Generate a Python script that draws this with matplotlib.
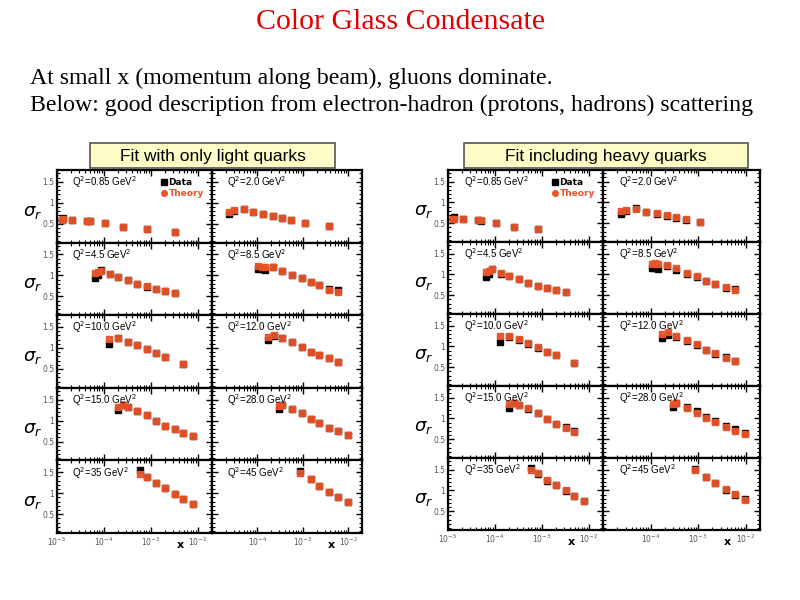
import numpy as np
import matplotlib.pyplot as plt
from matplotlib.patches import Rectangle
from matplotlib.lines import Line2D
from matplotlib.ticker import LogLocator, MultipleLocator, NullFormatter

nan = np.nan

q2_labels = ["0.85", "2.0", "4.5", "8.5", "10.0", "12.0", "15.0", "28.0", "35", "45"]

# x values, data (black) and theory (light-quark fit / heavy-quark fit) per Q2 bin
x_085 = [1.26e-5, 1.35e-5, 2.1e-5, 4.3e-5, 5.0e-5, 1.05e-4, 2.6e-4, 8.1e-4, 3.2e-3]
d_085 = [0.60, 0.64, 0.60, 0.57, 0.56, 0.51, 0.41, 0.37, 0.31]
l_085 = [0.59, 0.61, 0.60, 0.57, 0.56, 0.52, 0.42, 0.37, 0.31]
h_085 = [0.60, 0.61, 0.61, 0.58, 0.57, 0.50, 0.42, 0.37, nan]

x_2 = [2.4e-5, 3.1e-5, 5.0e-5, 8.1e-5, 1.35e-4, 2.2e-4, 3.5e-4, 5.5e-4, 1.1e-3, 3.8e-3]
d_2 = [0.73, 0.80, 0.86, 0.77, 0.73, 0.68, 0.63, 0.58, 0.52, 0.44]
l_2 = [0.77, 0.82, 0.85, 0.77, 0.73, 0.68, 0.63, 0.58, 0.52, 0.44]
h_2 = [0.80, 0.83, 0.84, 0.77, 0.74, 0.69, 0.64, 0.60, 0.53, nan]

x_45 = [6.5e-5, 7.6e-5, 8.5e-5, 1.35e-4, 2.0e-4, 3.2e-4, 5.1e-4, 8.1e-4, 1.3e-3, 2.0e-3, 3.2e-3]
d_45 = [0.93, 1.00, 1.13, 1.02, 0.96, 0.90, 0.79, 0.72, 0.67, 0.62, 0.57]
l_45 = [1.05, 1.07, 1.10, 1.02, 0.97, 0.90, 0.80, 0.74, 0.68, 0.63, 0.58]
h_45 = [1.07, 1.09, 1.12, 1.04, 0.97, 0.90, 0.80, 0.73, 0.68, 0.63, 0.58]

x_85 = [1.05e-4, 1.23e-4, 1.45e-4, 2.2e-4, 3.5e-4, 5.9e-4, 9.5e-4, 1.5e-3, 2.3e-3, 3.8e-3, 6.0e-3]
d_85 = [1.15, 1.16, 1.13, 1.20, 1.11, 1.01, 0.94, 0.84, 0.77, 0.67, 0.64]
l_85 = [1.22, 1.21, 1.20, 1.20, 1.11, 1.01, 0.94, 0.84, 0.77, 0.66, 0.60]
h_85 = [1.26, 1.27, 1.26, 1.22, 1.15, 1.04, 0.96, 0.85, 0.77, 0.69, 0.63]

x_10 = [1.3e-4, 2.0e-4, 3.2e-4, 5.1e-4, 8.1e-4, 1.3e-3, 2.0e-3, 4.9e-3]
d_10 = [1.10, 1.23, 1.15, 1.07, 0.97, 0.87, 0.79, 0.61]
l_10 = [1.21, 1.23, 1.15, 1.07, 0.97, 0.87, 0.79, 0.61]
h_10 = [1.24, 1.26, 1.17, 1.08, 0.98, 0.87, 0.79, 0.60]

x_12 = [1.7e-4, 2.3e-4, 3.5e-4, 5.9e-4, 9.5e-4, 1.5e-3, 2.3e-3, 3.8e-3, 6.0e-3]
d_12 = [1.20, 1.28, 1.23, 1.13, 1.03, 0.91, 0.83, 0.75, 0.66]
l_12 = [1.25, 1.30, 1.23, 1.13, 1.03, 0.91, 0.83, 0.75, 0.66]
h_12 = [1.31, 1.34, 1.26, 1.15, 1.05, 0.92, 0.85, 0.73, 0.65]

x_15 = [2.0e-4, 2.5e-4, 3.2e-4, 5.1e-4, 8.1e-4, 1.3e-3, 2.0e-3, 3.2e-3, 4.9e-3, 7.9e-3]
d_15 = [1.25, 1.38, 1.32, 1.23, 1.13, 0.98, 0.87, 0.79, 0.71, 0.62]
l_15 = [1.32, 1.36, 1.32, 1.23, 1.13, 0.98, 0.875, 0.79, 0.71, 0.625]
h_15 = [1.35, 1.38, 1.33, 1.24, 1.14, 0.99, 0.86, 0.77, 0.68, nan]

x_28 = [3.0e-4, 3.5e-4, 5.9e-4, 9.5e-4, 1.5e-3, 2.3e-3, 3.8e-3, 6.0e-3, 9.8e-3]
d_28 = [1.28, 1.37, 1.27, 1.17, 1.04, 0.94, 0.83, 0.75, 0.65]
l_28 = [1.35, 1.375, 1.275, 1.17, 1.04, 0.94, 0.83, 0.75, 0.65]
h_28 = [1.35, 1.37, 1.26, 1.13, 1.02, 0.91, 0.80, 0.71, 0.63]

x_35 = [5.9e-4, 8.1e-4, 1.3e-3, 2.0e-3, 3.2e-3, 4.9e-3, 7.9e-3]
d_35 = [1.55, 1.39, 1.23, 1.12, 0.99, 0.86, 0.75]
l_35 = [1.46, 1.39, 1.23, 1.12, 0.99, 0.86, 0.75]
h_35 = [1.49, 1.42, 1.25, 1.13, 1.00, 0.87, 0.75]

x_45g = [8.7e-4, 1.5e-3, 2.3e-3, 3.8e-3, 6.0e-3, 9.8e-3]
d_45g = [1.52, 1.33, 1.18, 1.02, 0.90, 0.79]
l_45g = [1.48, 1.33, 1.18, 1.02, 0.90, 0.79]
h_45g = [1.48, 1.33, 1.19, 1.04, 0.91, 0.78]

xs = [x_085, x_2, x_45, x_85, x_10, x_12, x_15, x_28, x_35, x_45g]
datas = [d_085, d_2, d_45, d_85, d_10, d_12, d_15, d_28, d_35, d_45g]
light = [l_085, l_2, l_45, l_85, l_10, l_12, l_15, l_28, l_35, l_45g]
heavy = [h_085, h_2, h_45, h_85, h_10, h_12, h_15, h_28, h_35, h_45g]

orange = "#e8542a"
W, H = 800, 600

fig = plt.figure(figsize=(8, 6), dpi=100)

fig.text(0.5, 1 - 22 / H, "Color Glass Condensate", ha="center", va="center",
         color="#e00000", fontsize=21.5, family="Liberation Serif")
fig.text(30 / W, 1 - 78 / H, "At small x (momentum along beam), gluons dominate.",
         ha="left", va="center", fontsize=17.2, family="Liberation Serif")
fig.text(30 / W, 1 - 105 / H,
         "Below: good description from electron-hadron (protons, hadrons) scattering",
         ha="left", va="center", fontsize=17.2, family="Liberation Serif")


def header(x0, x1, txt):
    r = Rectangle((x0 / W, 1 - 168 / H), (x1 - x0) / W, 25 / H, transform=fig.transFigure,
                  facecolor="#fdfcc6", edgecolor="#555555", lw=1.2)
    fig.add_artist(r)
    fig.text((x0 + x1) / 2 / W, 1 - 156 / H, txt, ha="center", va="center",
             fontsize=12.5, family="Liberation Sans")


def grid(cols, top, bot, theory):
    rh = (bot - top) / 5
    for i in range(10):
        r, c = divmod(i, 2)
        x0, x1 = cols[c], cols[c + 1]
        y1 = top + r * rh
        ax = fig.add_axes([x0 / W, 1 - (y1 + rh) / H, (x1 - x0) / W, rh / H])
        ax.set_xscale("log")
        ax.set_xlim(1e-5, 2e-2)
        ax.set_ylim(0.05, 1.78)
        th = np.array(theory[i])
        dd = np.where(np.isnan(th), nan, np.array(datas[i]))
        ax.plot(xs[i], dd, "s", color="black", ms=4, ls="none")
        ax.plot(xs[i], th, "s", color=orange, ms=4.3, ls="none", alpha=0.95)
        ax.text(0.1, 0.83, "Q$^2$=" + q2_labels[i] + " GeV$^2$", transform=ax.transAxes,
                fontsize=7, va="center", family="Liberation Sans")
        for s in ax.spines.values():
            s.set_linewidth(1.6)
        ax.tick_params(which="both", direction="in", top=True, right=True,
                       labelsize=5.5, labelcolor="#555555", pad=2)
        ax.tick_params(which="major", length=4, width=1)
        ax.tick_params(which="minor", length=2, width=0.8)
        ax.xaxis.set_minor_locator(LogLocator(base=10, subs=np.arange(2, 10)))
        ax.xaxis.set_minor_formatter(NullFormatter())
        ax.yaxis.set_minor_locator(MultipleLocator(0.1))
        ax.set_yticks([0.5, 1, 1.5])
        if c == 0:
            ax.set_yticklabels(["0.5", "1", "1.5"])
            ax.text(-0.16, 0.42, r"$\sigma_r$", transform=ax.transAxes, fontsize=13,
                    ha="center", va="center", family="Liberation Serif")
        else:
            ax.set_yticklabels([])
        ax.set_xticks([1e-5, 1e-4, 1e-3, 1e-2])
        if r == 4:
            labs = ["$10^{-5}$", "$10^{-4}$", "$10^{-3}$", "$10^{-2}$"]
            if c == 1:
                labs[0] = ""
            ax.set_xticklabels(labs)
            ax.text(4.2e-3, -0.17, "x", transform=ax.get_xaxis_transform(),
                    fontsize=8, fontweight="bold", ha="center", va="center")
        else:
            ax.set_xticklabels([])
        if i == 0:
            hs = [Line2D([], [], marker="s", color="black", ls="none", ms=4),
                  Line2D([], [], marker="o", color=orange, ls="none", ms=4)]
            lg = ax.legend(hs, ["Data", "Theory"], loc="upper right", frameon=False,
                           fontsize=6.5, handlelength=0.6, handletextpad=0.2,
                           borderaxespad=0.5, labelspacing=0.25)
            lg.get_texts()[0].set_fontweight("bold")
            lg.get_texts()[1].set_fontweight("bold")
            lg.get_texts()[1].set_color(orange)


header(90, 335, "Fit with only light quarks")
header(464, 748, "Fit including heavy quarks")
grid([57, 212, 362], 170, 533, light)
grid([448, 603, 760], 170, 530, heavy)

fig.savefig("out.png", dpi=100)
